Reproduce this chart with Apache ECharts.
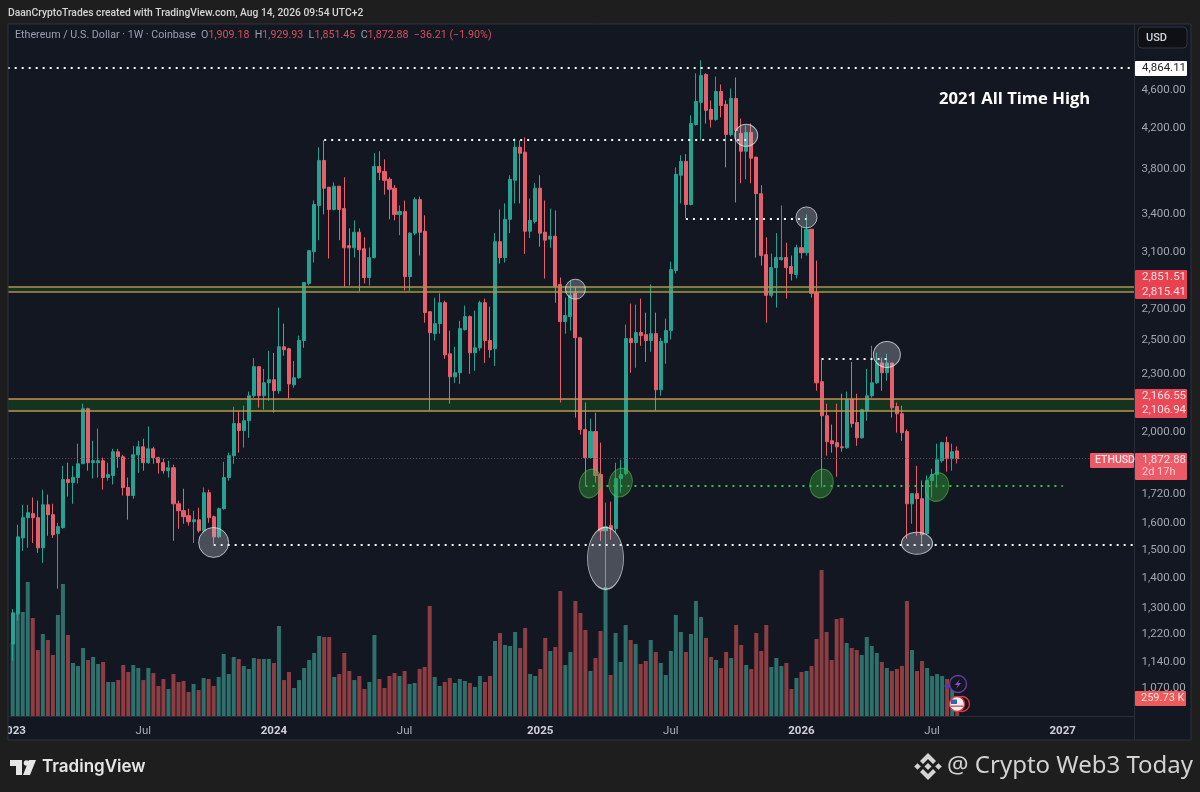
<!DOCTYPE html>
<html><head><meta charset="utf-8">
<style>html,body{margin:0;padding:0;background:#1e1e1e}#c{width:1200px;height:792px}</style>
<script src="https://cdn.jsdelivr.net/npm/echarts@6/dist/echarts.min.js"></script>
</head><body><div id="c"></div>
<script>
const startWeek = '2022-12-26';
const slotCount = 225;
const opens = [1192,1283,1544,1622,1638,1622,1507,1674,1634,1560,
1583,1780,1767,1789,1850,2116,1855,1855,1864,1789,
1798,1905,1882,1746,1712,1891,1928,1855,1919,1878,
1855,1819,1832,1678,1650,1630,1606,1614,1571,1724,
1626,1548,1658,1789,1887,2041,2006,2055,2184,2344,
2184,2254,2271,2211,2461,2449,2243,2282,2499,2872,
3103,3474,3877,3632,3440,3641,3448,3149,3133,3254,
3126,2914,3059,3821,3775,3703,3623,3399,3424,2920,
3247,3524,3262,2681,2541,2604,2740,2419,2287,2310,
2566,2649,2425,2455,2740,2499,2449,3180,3059,3358,
3694,4004,3956,3262,3341,3623,3254,3200,3223,2865,
2617,2649,2804,2516,2011,1878,2001,1802,1571,1591,
1579,1785,1806,2511,2486,2548,2535,2499,2541,2216,
2486,2560,2964,3739,3868,3482,4232,4467,4782,4392,
4283,4587,4445,4131,4510,4141,3965,4151,3909,3575,
3081,2790,2985,3044,3059,2993,2935,3134,3096,3278,
2810,2260,2080,1957,1948,1928,1924,2164,2046,1971,
2106,2184,2254,2366,2310,2366,2127,2090,2001,1678,
1720,1699,1560,1776,1802,1864,1948,1873,1909.18];
const closes = [1286,1548,1622,1642,1622,1507,1674,1634,1556,1587,
1780,1767,1789,1850,2116,1855,1864,1864,1789,1802,
1905,1882,1746,1712,1891,1928,1855,1919,1878,1855,
1819,1832,1678,1650,1626,1606,1614,1571,1724,1622,
1548,1658,1789,1887,2041,2006,2055,2184,2344,2184,
2254,2271,2211,2461,2443,2248,2282,2499,2879,3111,
3482,3877,3623,3440,3641,3440,3133,3133,3254,3118,
2914,3059,3821,3766,3694,3614,3399,3424,2920,3247,
3524,3254,2675,2547,2604,2740,2413,2287,2310,2573,
2649,2425,2455,2740,2499,2443,3180,3059,3358,3703,
4004,3946,3262,3350,3623,3247,3192,3223,2851,2617,
2656,2790,2516,2011,1878,2001,1798,1571,1587,1579,
1785,1802,2511,2486,2548,2529,2499,2541,2216,2493,
2560,2971,3748,3868,3482,4242,4477,4770,4381,4283,
4587,4434,4131,4510,4171,3965,4151,3899,3575,3074,
2790,2985,3059,3059,2985,2942,3134,3096,3278,2804,
2254,2080,1952,1943,1928,1924,2164,2041,1971,2111,
2184,2254,2366,2310,2366,2121,2090,1996,1678,1720,
1699,1556,1776,1802,1868,1948,1873,1905,1872.88];
const highs = [1298,1594,1674,1674,1704,1691,1737,1716,1678,1602,
1841,1855,1841,1943,2142,2121,1957,2016,1878,1855,
1919,1919,1891,1789,1933,1957,1967,2026,1928,1882,
1873,1864,1846,1691,1741,1658,1650,1662,1746,1737,
1630,1662,1859,1901,2126,2106,2132,2206,2395,2344,
2332,2437,2425,2708,2604,2455,2378,2529,2879,3111,
3516,4004,4072,3632,3676,3641,3721,3286,3350,3286,
3215,3134,3946,3965,3887,3721,3650,3474,3516,3254,
3542,3550,3391,2681,2774,2804,2754,2560,2461,2623,
2721,2656,2688,2754,2768,2714,3247,3440,3491,3739,
4091,4072,4101,3533,3668,3739,3516,3448,3432,2914,
2774,2893,2845,2516,2148,2065,2096,1948,1683,1687,
1855,1868,2598,2734,2728,2768,2675,2865,2675,2516,
2636,3029,3812,3927,3937,4328,4795,4950,4795,4488,
4758,4667,4488,4622,4747,4294,4222,4242,3909,3650,
3215,3089,3247,3474,3172,3074,3157,3294,3399,3278,
3037,2384,2142,2036,2142,2195,2206,2372,2195,2116,
2332,2467,2425,2396,2419,2366,2148,2132,2011,1720,
1841,1776,1798,1828,1943,1952,1977,1943,1929.93];
const lows = [1144,1262,1496,1507,1525,1489,1453,1552,1544,1364,
1579,1708,1678,1763,1850,1819,1785,1789,1737,1776,
1759,1832,1712,1614,1699,1810,1819,1850,1850,1806,
1806,1789,1533,1579,1598,1591,1525,1564,1564,1602,
1522,1544,1654,1776,1850,1901,1924,1971,2173,2121,
2111,2158,2096,2195,2408,2169,2226,2276,2455,2858,
3022,3192,3399,3052,3432,3192,2851,2858,3059,2817,
2872,2858,3052,3694,3567,3358,3350,3231,2824,2817,
3231,3074,2610,2106,2499,2541,2390,2142,2254,2248,
2560,2304,2321,2437,2366,2396,2349,3015,3022,3247,
3491,3491,3087,3208,3324,3142,2907,3134,2740,2148,
2541,2560,2070,1986,1754,1873,1767,1533,1357,1537,
1564,1724,1798,2310,2338,2467,2372,2431,2106,2184,
2361,2505,2942,3491,3366,3474,4222,4072,4242,4201,
4273,4307,3812,4111,3499,3667,3703,3667,3059,3000,
2610,2774,2708,3037,2768,2893,2907,3052,3074,2774,
2211,1746,1887,1901,1793,1905,1919,2021,1933,1967,
2055,2173,2248,2211,2265,2070,1996,1957,1541,1598,
1552,1522,1556,1704,1746,1855,1815,1819,1851.45];
const volumesK = [1053,1486,1501,1934,1414,952,1183,1097,880,1457,
1905,1169,765,722,981,808,851,750,779,491,
491,519,736,635,736,693,519,693,620,433,
534,390,606,491,505,346,462,375,548,534,
433,563,895,606,851,823,722,678,837,823,
823,823,765,1299,519,635,404,519,693,808,
909,1154,1140,1140,563,606,909,649,519,577,
390,491,1169,534,404,577,620,577,649,462,
476,678,707,1587,563,433,491,548,476,534,
505,476,418,577,491,577,1082,1198,1025,1010,
1212,981,1270,606,577,678,1126,938,996,1804,
736,924,1659,1486,1241,649,837,1227,1861,592,
1198,779,1313,1097,1039,750,794,1097,924,765,
592,938,1457,1212,924,1183,1659,1429,1126,851,
808,693,924,837,1313,1025,736,678,1198,938,
1313,707,837,722,765,390,548,635,649,722,
1111,2107,1212,808,1400,1414,1053,981,952,880,
1140,1010,909,779,693,649,678,722,1659,952,
649,794,693,577,606,577,534,433,259.73];
const yTicks = [4600,4200,3800,3400,3100,2700,2500,2300,2000,1720,1600,1500,1400,1300,1220,1140,1070];
const xTickDates = ['2023-01-02','2023-07-03','2024-01-01','2024-07-01','2025-01-06','2025-07-07','2026-01-05','2026-07-06','2027-01-04'];
const xTickTexts = ['2023','Jul','2024','Jul','2025','Jul','2026','Jul','2027'];
const athLevel = 4864.11, lastPrice = 1872.88;
const upperZone = [2851.51, 2815.41];
const lowerZone = [2166.55, 2106.94];
const whiteLevels = [[63,147,4082],[135,159,3366],[162,175,2392],[41,224,1520]];
const greenLevel = [115,210,1752];
const greyMarks = [[41,1527,30,30],[119,1469,36,62],[147,4122,23,22],[159,3374,21,21],[113,2832,20,20],[175,2415,27,26],[181,1524,31,22]];
const greenMarks = [[116,1763,22,29],[122,1767,23,29],[162,1763,23,29],[185,1748,23,29]];

const UP='#26a192', DOWN='#e85f6c', VUP='#2e706c', VDOWN='#8e3e42';
const cats=[]; { const d=new Date(startWeek+'T00:00:00Z'); for(let i=0;i<slotCount;i++){cats.push(new Date(d.getTime()+i*7*864e5).toISOString().slice(0,10));} }
const candle=cats.map((c,i)=> (i>=1&&i<=opens.length)?[opens[i-1],closes[i-1],lows[i-1],highs[i-1]]:'-');
const vol=cats.map((c,i)=> (i>=1&&i<=opens.length)?{value:volumesK[i-1],itemStyle:{color:closes[i-1]>=opens[i-1]?VUP:VDOWN}}:'-');
const fmt=v=>v.toLocaleString('en-US',{minimumFractionDigits:2,maximumFractionDigits:2});
const FONT='Roboto';
const dot=(col,w)=>({type:[w,7-w],width:w,color:col,cap:'butt'});
const hline=(v,col,w)=>({yAxis:v,lineStyle:{color:col,width:w,type:'solid'}});
const lineData=[
 [{coord:[0,athLevel],lineStyle:dot('#ffffff',2)},{coord:[224,athLevel]}],
 ...whiteLevels.map(l=>[{coord:[l[0],l[2]],lineStyle:dot('#ffffff',2)},{coord:[l[1],l[2]]}]),
 [{coord:[greenLevel[0],greenLevel[2]],lineStyle:dot('#3fbf5a',2)},{coord:[greenLevel[1],greenLevel[2]]}],
 {yAxis:lastPrice,lineStyle:{color:'#6d5258',width:1,type:[1,2]}},
 hline(upperZone[0],'#b0904c',1.5),hline(upperZone[1],'#b0904c',1.5),
 hline(lowerZone[0],'#cc8f4e',1.5),hline(lowerZone[1],'#b89a4c',1.5)
];
const markPts=[
 ...greyMarks.map(m=>({coord:[m[0],m[1]],symbol:'circle',symbolSize:[m[2],m[3]],itemStyle:{color:'rgba(200,205,215,0.3)',borderColor:'rgba(235,240,245,0.7)',borderWidth:1}})),
 ...greenMarks.map(m=>({coord:[m[0],m[1]],symbol:'circle',symbolSize:[m[2],m[3]],symbolRotate:-14,itemStyle:{color:'rgba(50,165,60,0.42)',borderColor:'rgba(90,200,90,0.55)',borderWidth:1}}))
];
const tag=(x,y,w,h,bg)=>({type:'rect',z:100,shape:{x,y,width:w,height:h,r:1},style:{fill:bg}});
const txt=(x,y,t,col,size,extra)=>({type:'text',z:101,x,y,style:Object.assign({text:t,fill:col,font:size+'px '+FONT,textVerticalAlign:'middle'},extra||{})});
const diamond=(cx,cy,r)=>({type:'polygon',z:100,shape:{points:[[cx,cy-r],[cx+r,cy],[cx,cy+r],[cx-r,cy]]},style:{fill:'#d4d4d4'}});

const graphic=[
 {type:'rect',z:-1,shape:{x:8,y:24,width:1183,height:716},style:{fill:'#131722'}},
 {type:'rect',z:90,shape:{x:0,y:24,width:8,height:718},style:{fill:'#1e1e1e'}},
 {type:'rect',z:90,shape:{x:1134,y:24,width:3,height:716},style:{fill:'#131722'}},
 {type:'rect',z:91,shape:{x:1134,y:24,width:1,height:716},style:{fill:'#2a2e39'}},
 {type:'rect',z:99,shape:{x:8,y:24,width:1183,height:716},style:{fill:'none',stroke:'#2f323a',lineWidth:1}},
 txt(8,13,'DaanCryptoTrades created with TradingView.com, Aug 14, 2026 09:54 UTC+2','#d6d6d6',10.3,{font:'500 10.3px '+FONT}),
 {type:'text',z:101,x:15,y:35,style:{textVerticalAlign:'middle',font:'10.7px '+FONT,fill:'#9aa0ac',
   text:'Ethereum / U.S. Dollar · 1W · Coinbase  O{r|1,909.18}  H{r|1,929.93}  L{r|1,851.45}  C{r|1,872.88}  {r|−36.21 (−1.90%)}',
   rich:{r:{fill:'#d5505c',font:'10.7px '+FONT}}}},
 {type:'rect',z:100,shape:{x:1138,y:27,width:49,height:21,r:4},style:{fill:'#0e1015',stroke:'#33363f',lineWidth:1}},
 txt(1146,38,'USD','#d4d6dc',11,{font:'500 11px '+FONT}),
 txt(939,99,'2021 All Time High','#ffffff',16.6,{font:'bold 16.6px "Open Sans"'}),
 tag(1135,61,52,15,'#ffffff'), txt(1142,68.5,'4,864.11','#222222',11.5),
 tag(1135,270,52,29,'#e8414f'), txt(1142,277,'2,851.51','#ffe3e5',11.5), txt(1142,292,'2,815.41','#ffe3e5',11.5),
 tag(1135,389,52,29,'#ea4856'), txt(1142,396,'2,166.55','#ffe3e5',11.5), txt(1142,410.5,'2,106.94','#ffe3e5',11.5),
 tag(1090,453,44,15,'#ec5a68'), txt(1095,460.5,'ETHUSD','#ffe3e5',10.5,{font:'500 10.5px '+FONT}),
 tag(1135,453,52,27,'#ec5a68'), txt(1142,460.5,'1,872.88','#ffe3e5',11.5), txt(1142,472,'2d 17h','#ffd0d4',11),
 tag(1135,691,51,15,'#ee5a5a'), txt(1141,698.5,'259.73 K','#ffe3e5',11),
 // event icons
 {type:'circle',z:80,shape:{cx:958,cy:684,r:8.5},style:{fill:'#131722',stroke:'#6b3d9c',lineWidth:1.3}},
 {type:'polygon',z:81,shape:{points:[[960,679],[955,685],[958,685],[956,689],[961,683],[958,683]]},style:{fill:'#8a55c8'}},
 {type:'polygon',z:81,shape:{points:[[947.5,682.5],[951,686],[947.5,689.5],[944,686]]},style:{fill:'#5a3a9a'}},
 {type:'circle',z:80,shape:{cx:962,cy:704,r:7.5},style:{fill:'#131722',stroke:'#e03a3a',lineWidth:1.3}},
 {type:'circle',z:81,shape:{cx:957,cy:704,r:7.5},style:{fill:'#e9edf5',stroke:'#e03a3a',lineWidth:1.3}},
 {type:'rect',z:82,shape:{x:951,y:699.5,width:6,height:4.5},style:{fill:'#3a62b8'}},
 {type:'rect',z:82,shape:{x:951,y:705.5,width:12,height:1.3},style:{fill:'#d94a4a'}},
 // TradingView logo
 {type:'polygon',z:100,shape:{points:[[10,760],[22,760],[22,775],[16,775],[16,766],[10,766]]},style:{fill:'#e6e6e6'}},
 {type:'circle',z:100,shape:{cx:26.5,cy:763,r:2.8},style:{fill:'#e6e6e6'}},
 {type:'polygon',z:100,shape:{points:[[29,760],[36,760],[30,775],[23,775]]},style:{fill:'#e6e6e6'}},
 txt(42,767,'TradingView','#e6e6e6',17,{font:'600 17px Inter'}),
 // Watermark
 {type:'polygon',z:100,shape:{points:[[928,753],[936,761],[933,764],[928,759],[923,764],[920,761]]},style:{fill:'#d4d4d4'}},
 {type:'polygon',z:100,shape:{points:[[928,780],[936,772],[933,769],[928,774],[923,769],[920,772]]},style:{fill:'#d4d4d4'}},
 diamond(917.5,766.5,3.3),diamond(938.5,766.5,3.3),diamond(928,766.5,3.5),
 txt(947,766,'@ Crypto Web3 Today','#d2d2d2',24,{font:'24px "Noto Sans"'})
];

const chart=echarts.init(document.getElementById('c'),null,{renderer:'canvas'});
chart.setOption({
 animation:false,backgroundColor:'#1e1e1e',graphic,
 grid:[{left:5.16,right:64.44,top:24,bottom:76,outerBoundsMode:'none'},{left:5.16,right:64.44,top:560,bottom:76,outerBoundsMode:'none'}],
 xAxis:[
  {type:'category',gridIndex:0,data:cats,boundaryGap:true,
   axisLine:{show:true,lineStyle:{color:'#2a2e39'}},axisTick:{show:false},splitLine:{show:false},
   axisLabel:{margin:9,hideOverlap:false,
     interval:(i,v)=>xTickDates.includes(v),
     formatter:v=>{const t=xTickTexts[xTickDates.indexOf(v)];return t==='Jul'?'{m|Jul}':'{y|'+t+'}';},
     rich:{m:{color:'#a8acb6',fontSize:11.5,fontFamily:FONT},y:{color:'#cfd2d9',fontSize:11.5,fontWeight:'bold',fontFamily:FONT}}}},
  {type:'category',gridIndex:1,data:cats,boundaryGap:true,show:false}
 ],
 yAxis:[
  {type:'log',gridIndex:0,position:'right',min:1000,max:5408,logBase:10,
   axisLine:{show:false},axisTick:{show:false},splitLine:{show:false},
   axisLabel:{show:true,customValues:yTicks,color:'#a3a7b1',fontSize:11.5,fontFamily:FONT,margin:6,padding:[3,0,0,0],formatter:v=>fmt(v)}},
  {type:'value',gridIndex:1,min:0,max:2251,show:false,splitLine:{show:false}}
 ],
 series:[
  {type:'bar',name:'Volume',xAxisIndex:1,yAxisIndex:1,data:vol,barWidth:4,z:1,silent:true},
  {type:'candlestick',name:'ETHUSD',xAxisIndex:0,yAxisIndex:0,data:candle,barWidth:3.6,z:3,silent:true,
   itemStyle:{color:UP,color0:DOWN,borderColor:UP,borderColor0:DOWN,borderWidth:1},
   markArea:{silent:true,itemStyle:{color:'rgba(25,120,25,0.3)'},data:[
     [{yAxis:upperZone[0]},{yAxis:upperZone[1]}],
     [{yAxis:lowerZone[0]},{yAxis:lowerZone[1]}]]},
   markLine:{silent:true,symbol:'none',label:{show:false},animation:false,data:lineData},
   markPoint:{silent:true,label:{show:false},animation:false,data:markPts}}
 ]
});
</script></body></html>
